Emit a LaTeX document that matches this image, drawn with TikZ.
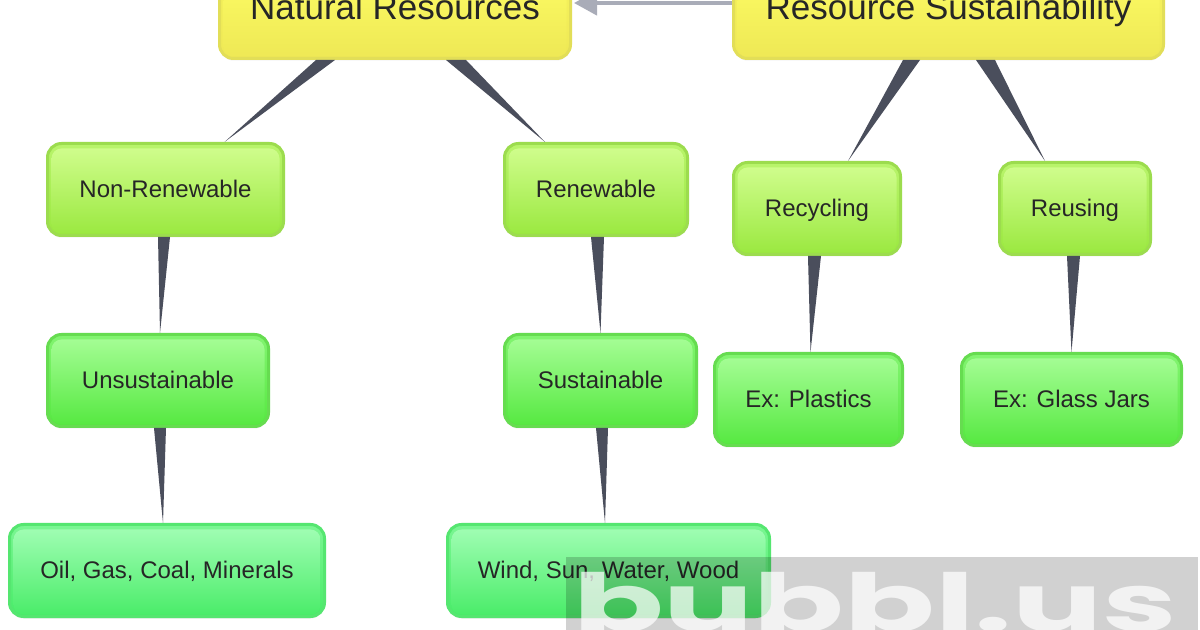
\documentclass[tikz,border=0pt]{standalone}
\usepackage{fontspec}
\setmainfont{Liberation Sans}
\newfontfamily\markfont{Poppins}
\usetikzlibrary{arrows.meta,calc,shadows}
\definecolor{yellowline}{HTML}{E2DE58}
\definecolor{yellowtop}{HTML}{FFFF66}
\definecolor{yellowlow}{HTML}{EEE855}
\definecolor{limeline}{HTML}{9CDC4E}
\definecolor{limetop}{HTML}{D2FE90}
\definecolor{limelow}{HTML}{9AE83F}
\definecolor{greenline}{HTML}{66DC50}
\definecolor{greentop}{HTML}{A8FE98}
\definecolor{greenlow}{HTML}{55E840}
\definecolor{mintline}{HTML}{55E670}
\definecolor{minttop}{HTML}{A4FEB6}
\definecolor{mintlow}{HTML}{48EC68}
\definecolor{linkgrey}{HTML}{4A4E5C}
\definecolor{arrowgrey}{HTML}{A9ACB8}
\tikzset{
 x=0.5pt,y=-0.5pt,
 bubble/.style n args={3}{draw=#1,line width=1.5pt,rounded corners=7pt,inner sep=0pt,top color=#2!55!#3,bottom color=#3,text=black!85,
  drop shadow={shadow xshift=0pt,shadow yshift=-1pt,opacity=.15},font=\fontsize{12}{14}\selectfont,text height=11pt,text depth=2.5pt,
  path picture={\shade[top color=#2,bottom color=#3,rounded corners=5pt] ([shift={(4,5)}]path picture bounding box.north west) rectangle ([shift={(-4,-2)}]path picture bounding box.south east);}},
 topic/.style={bubble={yellowline}{yellowtop}{yellowlow},font=\fontsize{17.5}{20}\selectfont,text height=15.5pt,text depth=3.5pt},
 limebox/.style={bubble={limeline}{limetop}{limelow}},
 greenbox/.style={bubble={greenline}{greentop}{greenlow}},
 mintbox/.style={bubble={mintline}{minttop}{mintlow}},
 taper/.style={fill=linkgrey},
}
\begin{document}
\begin{tikzpicture}
\useasboundingbox (0,0) rectangle (1200,630);
\clip (0,0) rectangle (1200,630);
\fill[white] (0,0) rectangle (1200,630);
\node[topic,minimum width=175.5pt,minimum height=50.5pt] (natural) at (395,8) {Natural Resources};
\node[topic,minimum width=215pt,minimum height=50.5pt] (sustain) at (948.5,8) {Resource Sustainability};
\node[limebox,minimum width=118pt,minimum height=46pt] (nonren) at (165.5,189.5) {Non-Renewable};
\node[limebox,minimum width=91.5pt,minimum height=46pt] (renew) at (596,189.5) {Renewable};
\node[limebox,minimum width=83.5pt,minimum height=46pt] (recycle) at (817,208.5) {Recycling};
\node[limebox,minimum width=75.5pt,minimum height=46pt] (reuse) at (1075,208.5) {Reusing};
\node[greenbox,minimum width=110.5pt,minimum height=46pt] (unsust) at (158,380.5) {Unsustainable};
\node[greenbox,minimum width=96pt,minimum height=46pt] (sust) at (600.5,380.5) {Sustainable};
\node[greenbox,minimum width=94pt,minimum height=46pt] (plastic) at (808.5,399.5) {Ex: Plastics};
\node[greenbox,minimum width=110pt,minimum height=46pt] (glass) at (1071.5,399.5) {Ex: Glass Jars};
\node[mintbox,minimum width=157.5pt,minimum height=46pt] (oil) at (167,570.5) {Oil, Gas, Coal, Minerals};
\node[mintbox,minimum width=161pt,minimum height=46pt] (wind) at (608.5,570.5) {Wind, Sun, Water, Wood};
\foreach \from/\to/\l/\r/\t in {natural/nonren/-79/-60/59,natural/renew/51/71/-51,sustain/recycle/-45.5/-28.5/31,sustain/reuse/27.5/46.5/-30,
nonren/unsust/-7.5/4.5/2,renew/sust/-5/8/0,recycle/plastic/-9/4/2,reuse/glass/-8/5/0,unsust/oil/-4/8/-4,sust/wind/-4.5/7.5/-3.5}{
\fill[taper] ($(\from.south)+(\l,0)$)--($(\from.south)+(\r,0)$)--($(\to.north)+(\t,0)$)--cycle;}
\draw[arrowgrey,line width=2.2pt,-{Triangle[length=11.5pt,width=12pt]}] ($(sustain.west)+(0,-5)$)--($(natural.east)+(2,-5)$);
\fill[black,opacity=0.18] (566,557) rectangle (1198,630);
\node[inner sep=0pt,anchor=base,white,opacity=0.72,font=\markfont\bfseries\fontsize{40}{40}\selectfont,xscale=1.67] (mark) at (875,632) {bubbl.us};
\end{tikzpicture}
\end{document}
